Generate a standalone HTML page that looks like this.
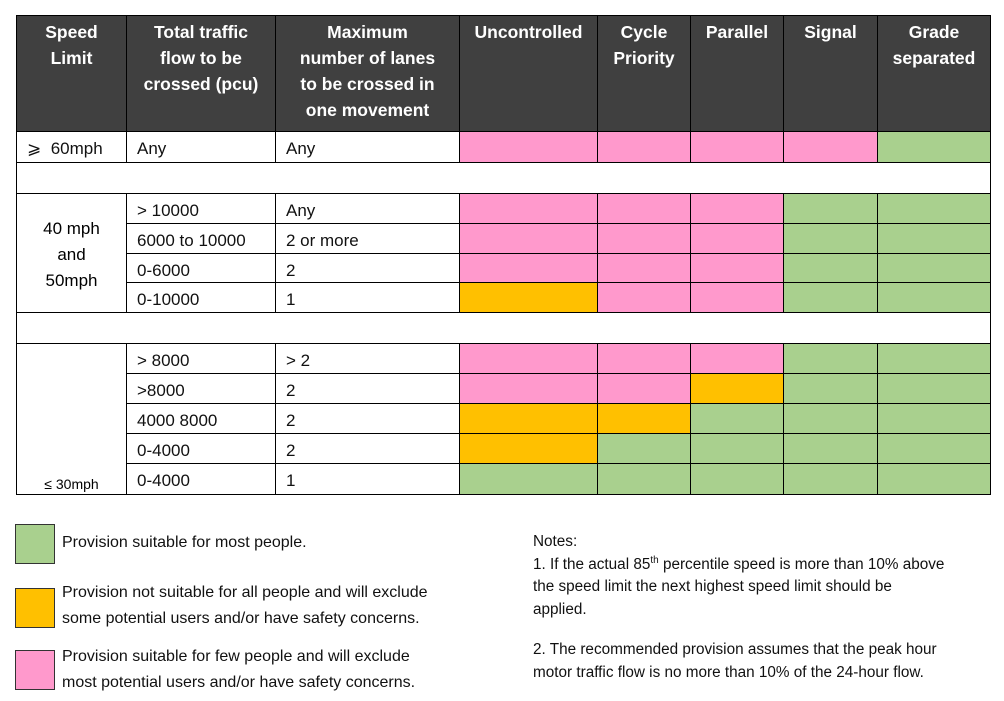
<!DOCTYPE html>
<html><head><meta charset="utf-8"><style>
body{margin:0;width:1004px;height:701px;background:#fff;position:relative;overflow:hidden;font-family:"Liberation Sans","DejaVu Sans",sans-serif;}
.c{position:absolute;box-sizing:border-box;border:1px solid #000;}
.h{background:#404040;color:#fff;font-weight:bold;font-size:17.5px;line-height:26px;text-align:center;padding-top:3px;}
.t{font-size:17px;line-height:33px;padding-left:10px;color:#111;}
.lg{position:absolute;left:15px;width:40px;height:40px;box-sizing:border-box;border:1px solid #333;}
.lt{position:absolute;left:62px;font-size:16px;line-height:26px;color:#111;}
.notes{position:absolute;left:533px;top:531px;width:436px;font-size:15.3px;line-height:22.5px;color:#111;}
</style></head><body>
<div id="tbl"></div>
<div class="lg" style="top:524px;background:#A9D08E"></div>
<div class="lt" style="top:530px">Provision suitable for most people.</div>
<div class="lg" style="top:588px;background:#FFC000"></div>
<div class="lt" style="top:580px">Provision not suitable for all people and will exclude<br>some potential users and/or have safety concerns.</div>
<div class="lg" style="top:650px;background:#FF99CC"></div>
<div class="lt" style="top:644px">Provision suitable for few people and will exclude<br>most potential users and/or have safety concerns.</div>
<div class="notes">Notes:<br>1. If the actual 85<sup style="font-size:10px;line-height:0">th</sup> percentile speed is more than 10% above<br>the speed limit the next highest speed limit should be<br>applied.<div style="height:18px"></div>2. The recommended provision assumes that the peak hour<br>motor traffic flow is no more than 10% of the 24-hour flow.</div>
<script>
const headers=["Speed<br>Limit","Total traffic<br>flow to be<br>crossed (pcu)","Maximum<br>number of lanes<br>to be crossed in<br>one movement","Uncontrolled","Cycle<br>Priority","Parallel","Signal","Grade<br>separated"];
const flows=["Any","","&gt; 10000","6000 to 10000","0-6000","0-10000","","&gt; 8000","&gt;8000","4000 8000","0-4000","0-4000"];
const lanes=["Any","","Any","2 or more","2","1","","&gt; 2","2","2","2","1"];
const ratings=["PPPPG","","PPPGG","PPPGG","PPPGG","OPPGG","","PPPGG","PPOGG","OOGGG","OGGGG","GGGGG"];
const colors={P:"#FF99CC",G:"#A9D08E",O:"#FFC000"};
const xs=[16,126,275,459,597,690,783,877,990];
const ys=[131,162,193,223,253,282,312,343,373,403,433,463,494];
const T=document.getElementById('tbl');
function cell(x0,y0,x1,y1,cls,html,bg){const d=document.createElement('div');d.className='c '+cls;d.style.left=x0+'px';d.style.top=y0+'px';d.style.width=(x1-x0+1)+'px';d.style.height=(y1-y0+1)+'px';if(bg)d.style.background=bg;d.innerHTML=html||'';T.appendChild(d);return d;}
headers.forEach((h,i)=>{const d=cell(xs[i],15,xs[i+1],131,'h',h);

});
for(let r=0;r<flows.length;r++){
 const y0=ys[r],y1=ys[r+1];
 if(ratings[r]===""){const d=cell(xs[0],y0,xs[8],y1,'');
 
 continue;}
 const f=cell(xs[1],y0,xs[2],y1,'t',flows[r]);
 
 
 const l=cell(xs[2],y0,xs[3],y1,'t',lanes[r]);
 
 
 for(let k=0;k<5;k++){const c=cell(xs[3+k],y0,xs[4+k],y1,'','',colors[ratings[r][k]]);
 
 }
}
const s1=cell(xs[0],ys[0],xs[1],ys[1],'t','<span style="margin-left:0px">&#x2A7E;&nbsp; 60mph</span>');


const s2=cell(xs[0],ys[2],xs[1],ys[6],'','<div style="text-align:center;font-size:17px;line-height:26px;padding-top:22px">40 mph<br>and<br>50mph</div>');


const s3=cell(xs[0],ys[7],xs[1],ys[12],'','<div style="position:absolute;bottom:2px;width:100%;text-align:center;font-size:14px">&le; 30mph</div>');


</script>
</body></html>
